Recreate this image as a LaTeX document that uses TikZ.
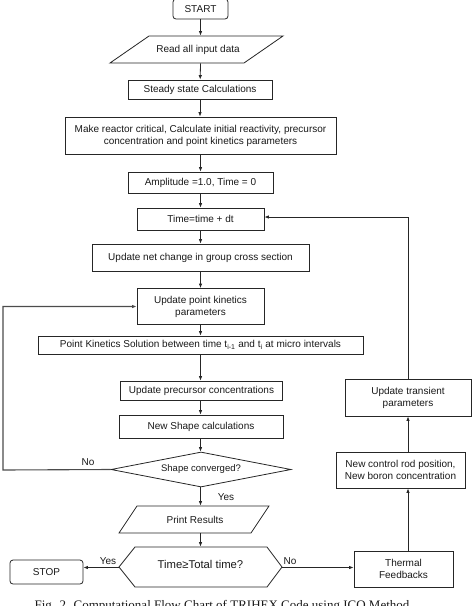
\documentclass[tikz,border=0pt]{standalone}
\usepackage{fontspec}
\setmainfont{Liberation Sans}
\newfontfamily\capfont{Liberation Serif}
\usetikzlibrary{arrows.meta,shapes.geometric}
\begin{document}
\begin{tikzpicture}[x=1pt,y=-1pt,
  line width=0.8pt, draw=black!85,
  box/.style={draw, rectangle, align=center, font=\fontsize{10}{12}\selectfont, inner sep=0pt, text=black!90},
  rbox/.style={box, rounded corners=3pt},
  txt/.style={inner sep=0pt, align=center, font=\fontsize{10}{12}\selectfont, text=black!90},
  arr/.style={-{Latex[length=4.5pt,width=3.5pt]}},
  lbl/.style={inner sep=0pt, font=\fontsize{10}{12}\selectfont, text=black!90}]
\useasboundingbox (0,0) rectangle (474,606);
\clip (0,0) rectangle (474,606);

% main column
\node[rbox, minimum width=55pt, minimum height=20pt] (start) at (200.5,9) {START};
\node[txt, minimum width=100pt, minimum height=27pt] (read) at (198,49.5) {Read all input data};
\draw (149,36) -- (283,36) -- (244,63) -- (110,63) -- cycle;
\node[box, minimum width=144pt, minimum height=19pt] (steady) at (200,89.5) {Steady state Calculations};
\node[box, minimum width=271pt, minimum height=37pt] (make) at (200.5,135.5) {Make reactor critical, Calculate initial reactivity, precursor\\concentration and point kinetics parameters};
\node[box, minimum width=145pt, minimum height=21pt] (amp) at (200.5,182.5) {Amplitude =1.0, Time = 0};
\node[box, minimum width=127pt, minimum height=22pt] (time) at (200.5,219) {Time=time + dt};
\node[box, minimum width=217pt, minimum height=27pt] (net) at (200.5,257.5) {Update net change in group cross section};
\node[box, minimum width=127pt, minimum height=36pt] (upk) at (200.5,306.5) {Update point kinetics\\parameters};
\node[box, minimum width=325pt, minimum height=18pt] (pks) at (200.5,345) {Point Kinetics Solution between time t\textsubscript{i-1} and t\textsubscript{i} at micro intervals};
\node[box, minimum width=162pt, minimum height=19pt] (prec) at (201.5,390.5) {Update precursor concentrations};
\node[box, minimum width=164pt, minimum height=23pt] (shape) at (201,426.5) {New Shape calculations};
\node[draw, diamond, aspect=5.14, minimum width=180pt, minimum height=35pt, inner sep=0pt, font=\fontsize{9.5}{11}\selectfont, text=black!90] (conv) at (201,469.5) {Shape converged?};
\node[txt, minimum width=100pt, minimum height=27pt] (print) at (195,519.5) {Print Results};
\draw (137,506) -- (269,506) -- (251,533) -- (119,533) -- cycle;
\node[txt, minimum width=163pt, minimum height=40pt, font=\fontsize{11.3}{13}\selectfont] (tot) at (200.5,567) {\raisebox{6pt}{Time≥Total time?}};
\draw (135,547) -- (267,547) -- (282,567) -- (267,587) -- (135,587) -- (119,567) -- cycle;
\node[rbox, minimum width=73pt, minimum height=24pt] (stop) at (46.5,572) {STOP};

% right column
\coordinate (rx) at (408,217);
\node[box, minimum width=99pt, minimum height=36pt] (therm) at (403.5,569) {Thermal\\Feedbacks};
\node[box, minimum width=129pt, minimum height=36pt] (ncr) at (400.5,470) {New control rod position,\\New boron concentration};
\node[box, minimum width=126pt, minimum height=37pt] (utp) at (408,397.5) {Update transient\\parameters};

% connectors
\draw[arr] (start) -- (read.north -| start);
\draw[arr] (read.south -| start) -- (steady);
\draw[arr] (steady) -- (make.north -| steady);
\draw[arr] (make.south -| amp) -- (amp);
\draw[arr] (amp) -- (time);
\draw[arr] (time) -- (net);
\draw[arr] (net) -- (upk);
\draw[arr] (upk) -- (pks.north -| upk);
\draw[arr] (pks.south -| upk) -- (prec.north -| upk);
\draw[arr] (prec.south -| upk) -- (shape.north -| upk);
\draw[arr] (shape.south -| upk) -- (conv.north -| upk);
\draw[arr] (conv.south -| upk) -- (print.north -| upk);
\draw[arr] (print.south -| upk) -- (tot.north -| upk);
\coordinate (lx) at (3,470);
\draw[arr, line width=1.1pt, draw=black!70] (conv.west) -- (lx) |- (upk.west);
\node[lbl] (no1) at (88,462.5) {No};
\node[lbl] (yes1) at (226,497.5) {Yes};
\draw[arr] (119,567.5) -- (stop.east |- 0,567.5);
\node[lbl] (yes2) at (108,561) {Yes};
\draw[arr] (282,567.5) -- (therm.west |- 0,567.5);
\node[lbl] (no2) at (290,561) {No};
\draw[arr] (therm.north -| rx) -- (ncr.south -| rx);
\draw[arr] (ncr.north -| rx) -- (utp.south -| rx);
\draw[arr] (utp.north -| rx) -- (rx) -- (time.east |- rx);

% caption (cut by the page edge, as in the reference)
\node[anchor=base, inner sep=0pt, font=\capfont\fontsize{13}{15}\selectfont, text=black!90] (cap) at (222,609) {Fig. 2. Computational Flow Chart of TRIHEX Code using ICQ Method};
\end{tikzpicture}
\end{document}
